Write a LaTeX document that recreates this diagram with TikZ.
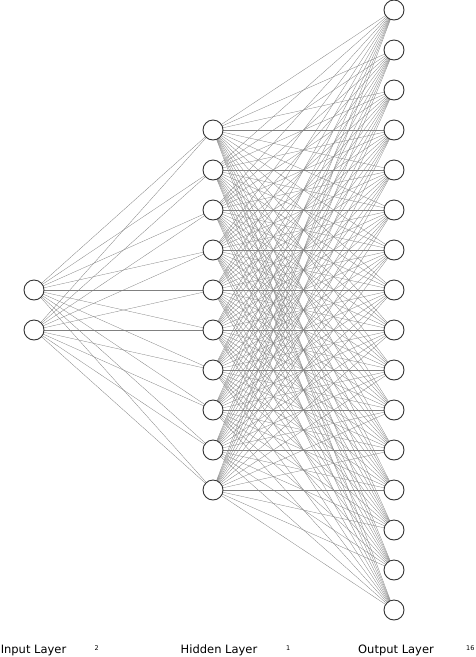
\documentclass[tikz,border=0pt]{standalone}
\usepackage{fontspec}
\setmainfont{DejaVu Sans}
\begin{document}
\begin{tikzpicture}[x=1pt,y=-1pt,
  neuron/.style={circle,draw=black!80,fill=white,line width=0.9pt,minimum size=20pt,inner sep=0pt},
  edge/.style={draw=black!50,line width=0.3pt},
  layerlabel/.style={anchor=base,font=\fontsize{11.5}{12}\selectfont,inner sep=0pt},
  countlabel/.style={anchor=base west,font=\fontsize{6.5}{7}\selectfont,inner sep=0pt}]
\useasboundingbox (0,0) rectangle (475,657);
% coordinates of nodes
\foreach \i in {1,2} \coordinate (i\i) at (34,{290+40*(\i-1)});
\foreach \i in {1,...,10} \coordinate (h\i) at (213,{130+40*(\i-1)});
\foreach \i in {1,...,16} \coordinate (o\i) at (394,{10+40*(\i-1)});
% connectors
\foreach \a in {1,2} \foreach \b in {1,...,10} \draw[edge] (i\a) -- (h\b);
\foreach \a in {1,...,10} \foreach \b in {1,...,16} \draw[edge] (h\a) -- (o\b);
% neurons
\foreach \i in {1,2} \node[neuron] (ni\i) at (i\i) {};
\foreach \i in {1,...,10} \node[neuron] (nh\i) at (h\i) {};
\foreach \i in {1,...,16} \node[neuron] (no\i) at (o\i) {};
% labels
\node[layerlabel] (linput) at (33.5,653) {Input Layer};
\node[layerlabel] (lhidden) at (219,653) {Hidden Layer};
\node[layerlabel] (loutput) at (396,653) {Output Layer};
\node[countlabel] (cinput) at (94.5,650) {2};
\node[countlabel] (chidden) at (286,650) {1};
\node[countlabel] (coutput) at (466,650) {16};
\end{tikzpicture}
\end{document}
